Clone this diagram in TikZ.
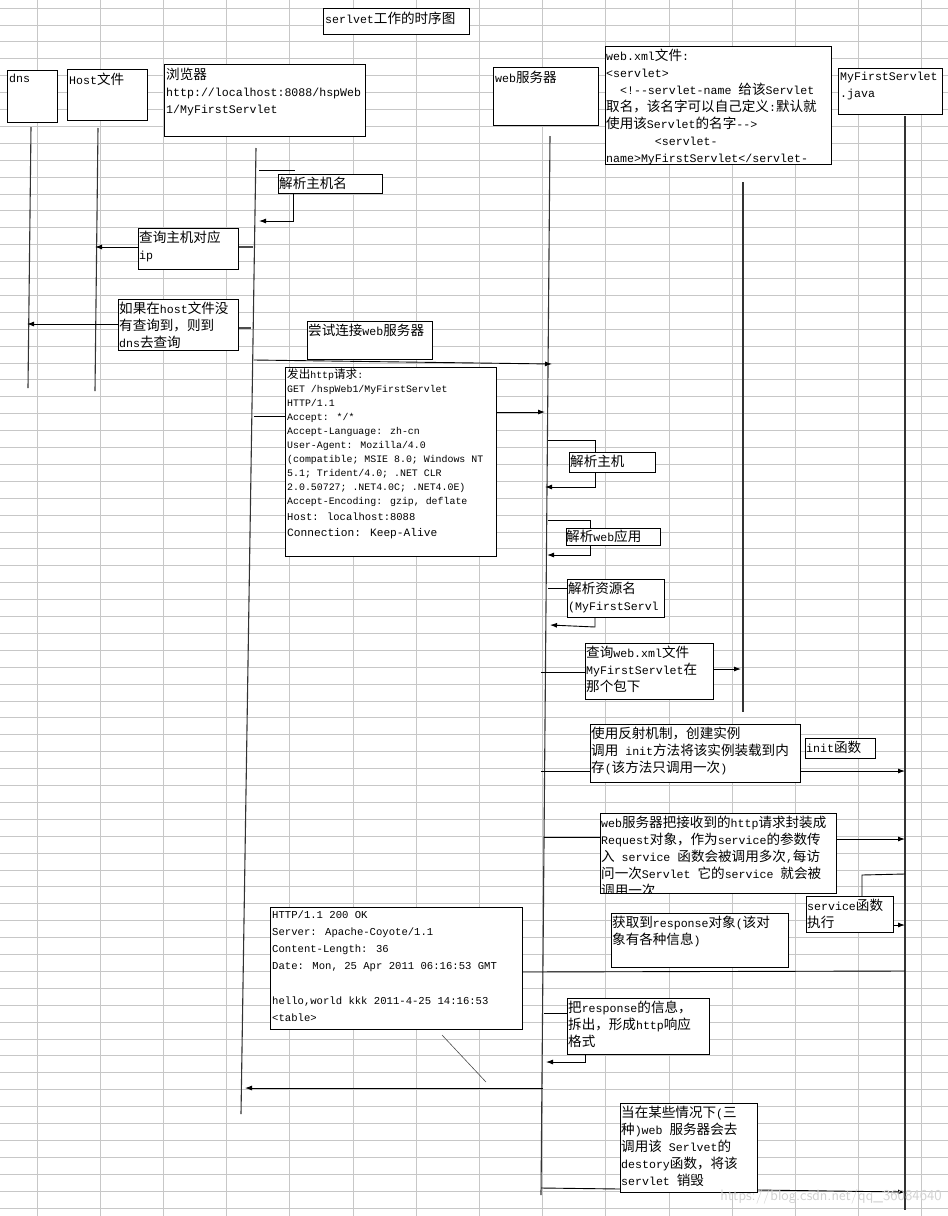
\documentclass[tikz,border=0pt]{standalone}
\usepackage{fontspec}
\usetikzlibrary{arrows.meta}
\setmainfont{Liberation Mono}[Ligatures=TeXOff]
\newfontfamily\cjkfont{Noto Sans CJK SC}[Scale=1.17]
\XeTeXinterchartokenstate=1
\newXeTeXintercharclass\cjkcls
\newcount\cjkc
\def\setcjkrange#1#2{\cjkc=#1 \loop\XeTeXcharclass\cjkc=\cjkcls \advance\cjkc 1 \ifnum\cjkc<#2\repeat}
\setcjkrange{"3000}{"3040}
\setcjkrange{"4E00}{"A000}
\setcjkrange{"FF00}{"FFF0}
\XeTeXinterchartoks 0 \cjkcls={\begingroup\cjkfont}
\XeTeXinterchartoks 4095 \cjkcls={\begingroup\cjkfont}
\XeTeXinterchartoks \cjkcls 0={\endgroup}
\XeTeXinterchartoks \cjkcls 4095={\endgroup}
\tikzset{
  bx/.style={draw=black,line width=0.9pt,fill=white,inner sep=0pt,anchor=north west},
  tx/.style={anchor=north west,inner sep=2pt,yshift=-1.5pt,align=left,font=\fontsize{11.6}{17}\selectfont},
  txs/.style={anchor=north west,inner sep=2pt,align=left,font=\fontsize{9.9}{14}\selectfont},
  life/.style={draw=black!80,line width=1.1pt},
  ln/.style={draw=black,line width=0.9pt},
  ar/.style={ln,-{Latex[length=7pt,width=5pt]}},
}
\newcommand\bx[6]{\node[bx,minimum width=#4pt-#2pt,minimum height=#5pt-#3pt] (#1) at (#2,#3) {};}
\begin{document}
\begin{tikzpicture}[x=1pt,y=-1pt]
\useasboundingbox (0,0) rectangle (948,1216);
% grid
\foreach \i in {0,...,14} {\draw[black!22,line width=0.8pt] (37+63.2*\i,0) -- (37+63.2*\i,1216);}
\foreach \j in {0,...,71} {\draw[black!22,line width=0.8pt] (0,8+16.9*\j) -- (948,8+16.9*\j);}
% lifelines
\coordinate (dT) at (31,127); \coordinate (dB) at (28,388);
\coordinate (hT) at (98,128); \coordinate (hB) at (95,391);
\coordinate (bT) at (256,148); \coordinate (bB) at (241,1114);
\coordinate (wT) at (550,136); \coordinate (wB) at (541,1195);
\coordinate (xT) at (743,182); \coordinate (xB) at (743,712);
\coordinate (sT) at (905,116); \coordinate (sB) at (905,1210);
\foreach \a/\b in {dT/dB,hT/hB,bT/bB,wT/wB,xT/xB,sT/sB} {\draw[life] (\a) -- (\b);}
% header boxes
\bx{title}{323}{8}{469}{34}{} \node[tx] at (title.north west) {serlvet工作的时序图};
\bx{dns}{7}{70}{57}{122}{} \node[tx] at (dns.north west) {dns};
\bx{host}{67}{69}{147}{120}{} \node[tx] at (host.north west) {Host文件};
\bx{br}{164}{64}{365}{136}{} \node[tx] at (br.north west) {浏览器\\http://localhost:8088/hspWeb\\1/MyFirstServlet};
\bx{ws}{493}{67}{598}{125}{} \node[tx] at (ws.north west) {web服务器};
\bx{wx}{605}{46}{831}{164}{} \node[tx,inner sep=1pt] at (wx.north west) {web.xml文件:\\<servlet>\\\ \ <!--servlet-name 给该Servlet\\取名，该名字可以自己定义:默认就\\使用该Servlet的名字-->\\\ \ \ \ \ \ \ <servlet-\\name>MyFirstServlet</servlet-};
\bx{sv}{838}{68}{942}{114}{} \node[tx] at (sv.north west) {MyFirstServlet\\.java};
% browser self call
\bx{b1}{278}{174}{382}{193}{} \node[tx,inner sep=1pt] at (b1.north west) {解析主机名};
\draw[ln] (259,170) -- (295,170);
\draw[ar] (b1.south west) ++(15,0) |- (259,221);
% query host
\bx{b2}{138}{228}{238}{269}{} \node[tx,inner sep=1pt] at (b2.north west) {查询主机对应\\ip};
\draw[ln,black!70,line width=1.5pt] (b2.east |- 0,247) -- (253,247);
\draw[ar] (b2.west |- 0,247) -- (95,247);
\bx{b3}{118}{299}{238}{350}{} \node[tx,inner sep=1pt] at (b3.north west) {如果在host文件没\\有查询到，则到\\dns去查询};
\draw[ln,black!70,line width=1.5pt] (b3.east |- 0,328) -- (251,328);
\draw[ar] (b3.west |- 0,324) -- (27,324);
\bx{b4}{307}{321}{432}{359}{} \node[tx,inner sep=1pt] at (b4.north west) {尝试连接web服务器};
\draw[ar] (254,360) -- (552,364);
% request
\bx{rq}{285}{367}{496}{556}{}
\node[txs,inner sep=2pt] at (rq.north west) {发出http请求:\\GET /hspWeb1/MyFirstServlet\\HTTP/1.1\\Accept: */*\\Accept-Language: zh-cn\\User-Agent: Mozilla/4.0\\(compatible; MSIE 8.0; Windows NT\\5.1; Trident/4.0; .NET CLR\\2.0.50727; .NET4.0C; .NET4.0E)\\Accept-Encoding: gzip, deflate\\[2pt]{\fontsize{10.5}{16}\selectfont Host: localhost:8088}\\[2pt]{\fontsize{11.2}{16}\selectfont Connection: Keep-Alive}};
\draw[ln] (254,416) -- (rq.west |- 0,416);
\draw[ar] (rq.east |- 0,412) -- (545,412);
% server self calls
\bx{s1}{569}{452}{655}{472}{} \node[tx,inner sep=1pt] at (s1.north west) {解析主机};
\draw[ln] (548,440) -- (595,440) -- (595,452);
\draw[ar] (595,472) -- (595,487) -- (545,487);
\bx{s2}{566}{528}{660}{545}{} \node[tx,inner sep=0pt] at (s2.north west) {解析web应用};
\draw[ln] (548,520) -- (590,520) -- (590,528);
\draw[ar] (590,545) -- (590,555) -- (547,555);
\bx{s3}{567}{579}{664}{617}{} \node[tx,inner sep=1pt] at (s3.north west) {解析资源名\\(MyFirstServl};
\draw[ln] (548,588) -- (s3.west |- 0,588);
\draw[ar] (595,617) -- (595,627) -- (550,625);
\bx{s4}{585}{643}{713}{699}{} \node[tx,inner sep=1pt] at (s4.north west) {查询web.xml文件\\MyFirstServlet在\\那个包下};
\draw[ln] (541,672) -- (s4.west |- 0,672);
\draw[ar] (s4.east |- 0,669) -- (741,669);
% init
\bx{s5}{590}{724}{800}{782}{} \node[tx,inner sep=1pt] at (s5.north west) {使用反射机制，创建实例\\调用 init方法将该实例装载到内\\存(该方法只调用一次)};
\bx{s6}{805}{738}{875}{758}{} \node[tx,inner sep=1pt] at (s6.north west) {init函数};
\draw[ln] (541,771) -- (s5.west |- 0,771);
\draw[ar] (s5.east |- 0,771) -- (905,771);
% service
\begin{scope}
\bx{s7}{600}{813}{836}{893}{}
\clip (600,813) rectangle (836,893);
\node[tx,inner sep=1pt] at (s7.north west) {web服务器把接收到的http请求封装成\\Request对象，作为service的参数传\\入 service 函数会被调用多次,每访\\问一次Servlet 它的service 就会被\\调用一次};
\end{scope}
\draw[ln] (544,837) -- (s7.west |- 0,837);
\draw[ar] (s7.east |- 0,839) -- (905,839);
\bx{s8}{806}{896}{893}{932}{} \node[tx,inner sep=1pt] at (s8.north west) {service函数\\执行};
\draw[ln] (905,874) -- (862,875) -- (862,896);
\draw[ar] (s8.east |- 0,925) -- (905,925);
\bx{s9}{611}{913}{788}{967}{} \node[tx,inner sep=1pt] at (s9.north west) {获取到response对象(该对\\象有各种信息)};
% response
\bx{rs}{270}{907}{522}{1029}{}
\node[tx,inner sep=2pt,font=\fontsize{10.6}{17.2}\selectfont] at (rs.north west) {HTTP/1.1 200 OK\\Server: Apache-Coyote/1.1\\Content-Length: 36\\Date: Mon, 25 Apr 2011 06:16:53 GMT\\\mbox{}\\hello,world kkk 2011-4-25 14:16:53\\<table>};
\draw[ln] (rs.east |- 0,972) -- (905,971);
\bx{s10}{567}{998}{709}{1054}{} \node[tx,inner sep=1pt] at (s10.north west) {把response的信息，\\拆出，形成http响应\\格式};
\draw[ln] (544,1013) -- (s10.west |- 0,1013);
\draw[ar] (585,1054) -- (585,1062) -- (546,1062);
\draw[black!70,line width=0.6pt] (442,1035) -- (486,1082);
\draw[ar] (543,1088) -- (245,1088);
\bx{s11}{620}{1103}{757}{1192}{} \node[tx,inner sep=1pt] at (s11.north west) {当在某些情况下(三\\种)web 服务器会去\\调用该 Serlvet的\\destory函数，将该\\servlet 销毁};
\draw[ln] (541,1188) -- (s11.west |- 0,1189);
\draw[ar] (s11.east |- 0,1190) -- (905,1192);
\node[anchor=east,text=black!18,font=\fontsize{15}{15}\selectfont\sffamily,inner sep=0] at (942,1197) {https://blog.csdn.net/qq\_36084640};
\end{tikzpicture}
\end{document}
